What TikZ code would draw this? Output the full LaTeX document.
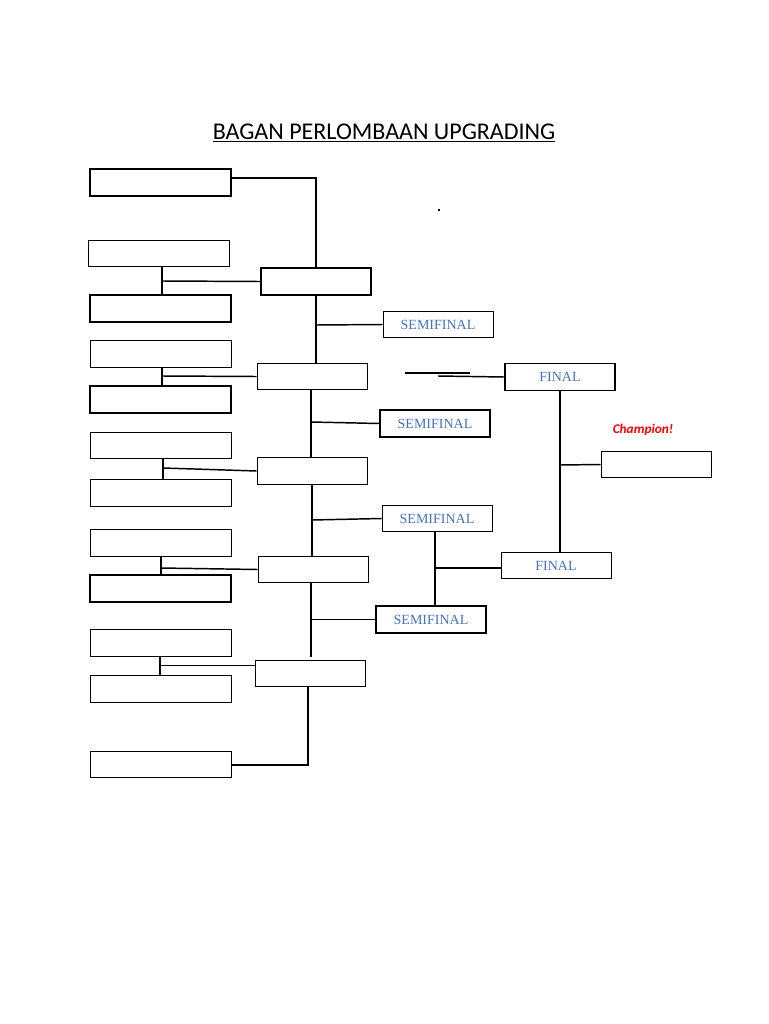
\documentclass[tikz,border=0pt]{standalone}
\usepackage{fontspec}
\setmainfont{Liberation Serif}
\newfontfamily\carl{Carlito}
\definecolor{sfblue}{HTML}{4472C4}
\begin{document}
\begin{tikzpicture}[x=0.75pt,y=-0.75pt,
  bx/.style={draw,line width=1.1pt,minimum width=82.5pt,minimum height=20pt,inner sep=0pt,font=\fontsize{10.5}{12}\selectfont,text=sfblue},
  thin box/.style={bx,line width=0.6pt},
  wide/.style={minimum width=105.75pt},
  ln/.style={line width=1.1pt}]
\useasboundingbox (0,0) rectangle (768,1024);
\node[font=\carl\fontsize{18}{21}\selectfont] (title) at (384,133) {\underline{BAGAN PERLOMBAAN UPGRADING}};
\node[fill,inner sep=0pt,minimum width=2pt,minimum height=1.5pt] (dot) at (439,210) {};
% left column
\node[bx,wide] (L1) at (160.5,182.5) {};
\node[thin box,wide] (L2) at (158.5,253.5) {};
\node[bx,wide] (L3) at (160.5,308.5) {};
\node[thin box,wide] (L4) at (160.5,354) {};
\node[bx,wide] (L5) at (160.5,399.5) {};
\node[thin box,wide] (L6) at (160.5,445.5) {};
\node[thin box,wide] (L7) at (160.5,493) {};
\node[thin box,wide] (L8) at (160.5,543) {};
\node[bx,wide] (L9) at (160.5,588.5) {};
\node[thin box,wide] (L10) at (160.5,643) {};
\node[thin box,wide] (L11) at (160.5,689) {};
\node[thin box,wide] (L12) at (160.5,764.5) {};
% middle
\node[bx] (M1) at (316,281.5) {};
\node[thin box] (M2) at (312,376.5) {};
\node[thin box] (M3) at (312,471) {};
\node[thin box] (M4) at (313,569.5) {};
\node[thin box] (M5) at (310,673.5) {};
% semifinals
\node[thin box] (S1) at (438,324.5) {SEMIFINAL};
\node[bx] (S2) at (435,423.5) {SEMIFINAL};
\node[thin box] (S3) at (437,518.5) {SEMIFINAL};
\node[bx] (S4) at (431,619.5) {SEMIFINAL};
\node[bx] (F1) at (560,377) {FINAL};
\node[thin box] (F2) at (556,565.5) {FINAL};
\node[thin box] (C) at (656,464.5) {};
\node[text=red,font=\carl\bfseries\itshape\fontsize{10}{12}\selectfont] (ch) at (643,430) {Champion!};
% connectors
\coordinate (a1) at (316,178);
\draw[ln] (L1.east |- a1) -- (a1) -- (M1.north);
\coordinate (b1) at (162,281);
\draw[ln] (b1 |- L2.south) -- (b1 |- L3.north);
\draw[ln] (b1) -- (M1.west);
\draw[ln] (M1.south) -- (316,363);
\draw[ln] (316,325) -- (S1.west);
\coordinate (b2) at (162,376);
\draw[ln] (b2 |- L4.south) -- (b2 |- L5.north);
\draw[ln] (b2) -- (M2.west);
\draw[ln] (311,390) -- (311,457);
\draw[ln] (311,422) -- (S2.west);
\coordinate (b3) at (163,468);
\draw[ln] (b3 |- L6.south) -- (b3 |- L7.north);
\draw[ln] (b3) -- (M3.west);
\draw[ln] (312,485) -- (312,556);
\draw[ln] (312,520) -- (S3.west);
\coordinate (b4) at (161,568);
\draw[ln] (b4 |- L8.south) -- (b4 |- L9.north);
\draw[ln] (b4) -- (M4.west);
\draw[ln] (311,583) -- (311,657);
\draw[ln] (311,619.5) -- (S4.west);
\coordinate (b5) at (160,665);
\draw[ln] (b5 |- L10.south) -- (b5 |- L11.north);
\draw[line width=0.6pt] (b5) -- (M5.west |- b5);
\coordinate (e5) at (308,765);
\draw[ln] (L12.east |- e5) -- (e5) -- (e5 |- M5.south);
\coordinate (t1) at (405,373);
\coordinate (t2) at (470,373);
\draw[line width=0.8pt] (t1) -- (t2);
\draw[ln] (438,376) -- (F1.west);
\draw[ln] (560,391) -- (560,552);
\draw[ln] (560,465) -- (C.west);
\draw[ln] (S3.south -| 435,0) -- (S4.north -| 435,0);
\draw[ln] (435,568) -- (F2.west |- 435,568);
\end{tikzpicture}
\end{document}
